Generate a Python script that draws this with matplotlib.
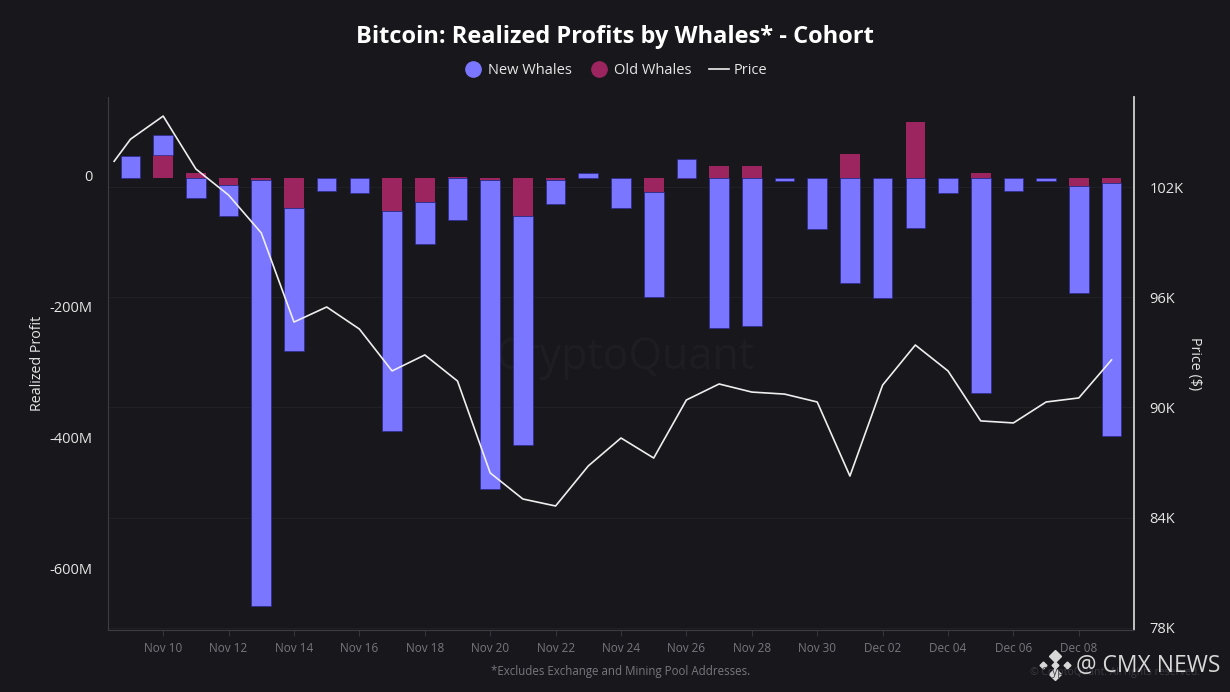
import pandas as pd
import matplotlib.pyplot as plt
import matplotlib.dates as mdates
from matplotlib.lines import Line2D
from matplotlib.transforms import ScaledTranslation

plt.rcParams['font.family'] = ['Open Sans', 'DejaVu Sans']

days = pd.date_range('2024-11-09', '2024-12-09')
new_whales = [33, 30, -30, -47, -650, -219, -20, -23, -335, -63, -64, -472, -350, -36, 8, -45,
              -159, 29, -229, -226, -4, -78, -160, -183, -76, -23, -328, -20, -4, -164, -387]
old_whales = [0, 35, 8, -11, -3, -45, 0, 0, -51, -37, 2, -3, -58, -3, 0, 0,
              -22, -2, 18, 18, 0, 0, 37, 0, 85, 0, 8, 0, 0, -12, -7]
price_days = [pd.Timestamp('2024-11-08 12:00')] + list(days)
price = [103400, 104600, 105860, 102980, 101560, 99500, 94650, 95470, 94270, 91990, 92860,
         91440, 86440, 85020, 84640, 86820, 88340, 87250, 90410, 91280, 90840, 90730, 90300,
         86270, 91220, 93400, 91990, 89270, 89160, 90300, 90520, 92590]
left_ticks = [0, -200, -400, -600]
left_labels = ['0', '-200M', '-400M', '-600M']
right_ticks = [78000, 84000, 90000, 96000, 102000]
right_labels = ['78K', '84K', '90K', '96K', '102K']

bg = '#17171c'
blue = '#7b76ff'
red = '#9c2560'
price_lim = (77891, 106898)

fig = plt.figure(figsize=(12.3, 6.92), dpi=100, facecolor=bg)
ax = fig.add_axes([108/1230, 1-630/692, (1134-108)/1230, (630-97)/692])
ax.patch.set_visible(False)

# stack each series away from zero, old whales sit next to the axis
new_bottom = [o if (o > 0) == (n > 0) else 0 for n, o in zip(new_whales, old_whales)]
ax.bar(days, old_whales, width=0.6, color=red, zorder=3)
ax.bar(days, new_whales, bottom=new_bottom, width=0.6, color=blue,
       edgecolor='#2a2790', linewidth=0.5, zorder=3)

ax.set_ylim(-690, 123.7)
ax.set_xlim(days[0] - pd.Timedelta(hours=16.5), days[-1] + pd.Timedelta(hours=16.5))
ax.set_yticks(left_ticks, left_labels)
ax.set_xticks(days[1::2])
ax.xaxis.set_major_formatter(mdates.DateFormatter('%b %d'))
ax.tick_params(axis='x', colors='#77777d', labelsize=8.5, length=4, width=0.6, color='#3a3a40', pad=5)
ax.tick_params(axis='y', colors='#e6e6e6', labelsize=10.5, length=0, pad=11)
shift = ScaledTranslation(0, 3/100, fig.dpi_scale_trans)
for lab in ax.get_yticklabels():
    lab.set_transform(lab.get_transform() + shift)
ax.set_ylabel('Realized Profit', color='#e6e6e6', fontsize=10.3)
ax.yaxis.set_label_coords(-0.0614, 0.5)
for side in ['top', 'right']:
    ax.spines[side].set_visible(False)
ax.spines['left'].set_color('#3c3c42')
ax.spines['bottom'].set_color('#3c3c42')

# right axis and its grid go behind the bars, the price line in front
ax2 = ax.twinx()
ax2.set_ylim(price_lim)
ax2.set_yticks(right_ticks, right_labels)
ax2.tick_params(axis='y', colors='#e6e6e6', labelsize=10.5, length=0, pad=11)
ax2.grid(axis='y', color='#212125', lw=0.8)
ax2.set_ylabel('Price ($)', color='#e6e6e6', fontsize=10.3, rotation=270, va='center')
ax2.yaxis.set_label_coords(1.0585, 0.5)
for side in ['top', 'left', 'bottom']:
    ax2.spines[side].set_visible(False)
ax2.spines['right'].set_color('#cfcfcf')
ax2.spines['right'].set_linewidth(1.3)
ax2.patch.set_visible(False)
ax2.set_zorder(1)
ax.set_zorder(2)

ax3 = ax.twinx()
ax3.plot(price_days, price, color='#eeeeee', lw=1.2)
ax3.set_ylim(price_lim)
ax3.axis('off')
ax3.set_zorder(3)

fig.text(0.5, 1-37/692, 'Bitcoin: Realized Profits by Whales* - Cohort', color='white',
         fontsize=17, fontweight='bold', ha='center', va='center')
handles = [Line2D([], [], ls='', marker='o', ms=11, color=blue, label='New Whales'),
           Line2D([], [], ls='', marker='o', ms=11, color=red, label='Old Whales'),
           Line2D([], [], color='#eeeeee', lw=1.2, label='Price')]
fig.legend(handles=handles, loc='center', bbox_to_anchor=(0.5, 1-71/692), ncols=3, frameon=False,
           fontsize=10.5, labelcolor='#e6e6e6', handlelength=1.4, handletextpad=0.3, columnspacing=1.2)

fig.text(621/1230, 1-671/692, '*Excludes Exchange and Mining Pool Addresses.', color='#77777d',
         fontsize=8.3, ha='center', va='center')
wm = fig.text(625/1230, 1-358/692, 'CryptoQuant', color='#1d1d22', fontsize=31, ha='center', va='center')
wm.set_zorder(0.5)
fig.text(1200/1230, 1-672/692, '© CryptoQuant. All rights reserved.', color='#3a3a40', fontsize=7.5,
         ha='right', va='center')
fig.text(1148.5/1230, 1-666/692, '@ CMX NEWS', color='#d8d8d8', fontsize=16.5, ha='center', va='center')

# binance style logo in front of the credit
logo_x, logo_y = 1055, 665
for dx, dy, ms in [(0, -9, 6.5), (0, 9, 6.5), (-12, 0, 3.5), (12, 0, 3.5), (0, 0, 3.5)]:
    fig.add_artist(Line2D([(logo_x + dx)/1230], [1-(logo_y + dy)/692], marker='D', ms=ms, ls='',
                          color='#d8d8d8', transform=fig.transFigure))

fig.savefig('out.png', dpi=100, facecolor=bg)
